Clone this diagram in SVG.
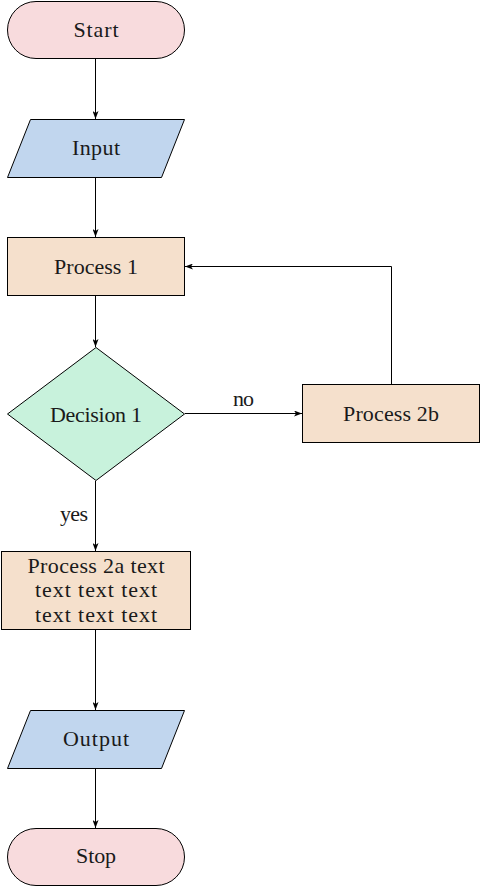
<svg xmlns="http://www.w3.org/2000/svg" width="481" height="887" viewBox="0 0 481 887">
<style>
.s{stroke:#000;stroke-width:1}
.t{font-family:"Liberation Serif","Times New Roman",serif;font-size:22px;fill:#1a1a1a;text-anchor:middle}
.term{fill:#f8dbdd}
.io{fill:#c1d6ee}
.proc{fill:#f5e0cc}
.dec{fill:#c8f2dc}
.c{fill:none;stroke:#000;stroke-width:1;marker-end:url(#ah)}
</style>
<defs>
<marker id="ah" viewBox="0 0 8 6" refX="8" refY="3" markerWidth="8" markerHeight="6" markerUnits="userSpaceOnUse" orient="auto">
<path d="M0,0 L8,3 L0,6 L2,3 Z" fill="#000"/>
</marker>
</defs>
<rect width="481" height="887" fill="#fff"/>
<g id="start"><rect class="s term" x="7.5" y="1.5" width="177" height="57" rx="28.5"/><text class="t" x="96" y="37" textLength="45" lengthAdjust="spacing">Start</text></g>
<g id="input"><polygon class="s io" points="30.5,119.5 184.5,119.5 161.5,177.5 7.5,177.5"/><text class="t" x="96" y="155" textLength="48" lengthAdjust="spacing">Input</text></g>
<g id="process1"><rect class="s proc" x="7.5" y="237.5" width="177" height="58"/><text class="t" x="96" y="274" textLength="84" lengthAdjust="spacing">Process 1</text></g>
<g id="decision1"><polygon class="s dec" points="96,347.5 184.5,414 96,480.5 7.5,414"/><text class="t" x="96" y="421.5" textLength="92" lengthAdjust="spacing">Decision 1</text></g>
<g id="process2b"><rect class="s proc" x="302.5" y="384.5" width="177" height="58"/><text class="t" x="391" y="421" textLength="96" lengthAdjust="spacing">Process 2b</text></g>
<g id="process2a"><rect class="s proc" x="1.5" y="551.5" width="189" height="78"/><text class="t" x="96" y="572.5" textLength="137" lengthAdjust="spacing">Process 2a text</text><text class="t" x="96" y="597" textLength="122" lengthAdjust="spacing">text text text</text><text class="t" x="96" y="621.5" textLength="122" lengthAdjust="spacing">text text text</text></g>
<g id="output"><polygon class="s io" points="30.5,710.5 184.5,710.5 161.5,768.5 7.5,768.5"/><text class="t" x="96" y="745.5" textLength="66" lengthAdjust="spacing">Output</text></g>
<g id="stop"><rect class="s term" x="7.5" y="828.5" width="177" height="57" rx="28.5"/><text class="t" x="96" y="863" textLength="40" lengthAdjust="spacing">Stop</text></g>
<g id="connectors">
<path class="c" d="M95.5,59 V119"/>
<path class="c" d="M95.5,178 V237"/>
<path class="c" d="M95.5,296 V347"/>
<path class="c" d="M95.5,481 V551"/>
<path class="c" d="M95.5,630 V710"/>
<path class="c" d="M95.5,769 V828"/>
<path class="c" d="M185,413.5 H302"/>
<path class="c" d="M391.5,384 V266.5 H185"/>
<text class="t" x="243.5" y="406" textLength="21" lengthAdjust="spacing">no</text>
<text class="t" x="74" y="521" textLength="28" lengthAdjust="spacing">yes</text>
</g>
</svg>
